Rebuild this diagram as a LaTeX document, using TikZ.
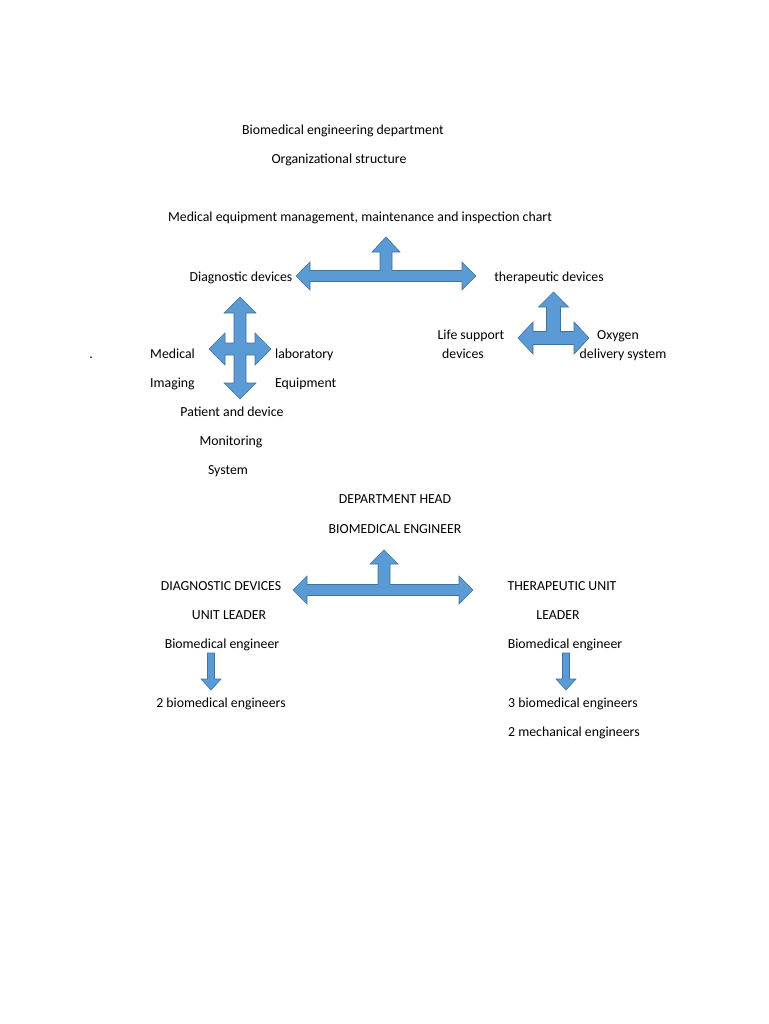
\documentclass[tikz,border=0pt]{standalone}
\usepackage{fontspec}
\setmainfont{Carlito}
\definecolor{arrowblue}{HTML}{5B9BD5}
\definecolor{arrowedge}{HTML}{41719C}
\tikzset{
  chart text/.style={font=\fontsize{13.8}{16}\selectfont, inner sep=0pt, anchor=base},
  chart left/.style={chart text, anchor=base west},
  block arrow/.style={fill=arrowblue, draw=arrowedge, line width=0.6pt, line join=miter},
}
\begin{document}
\begin{tikzpicture}[x=1pt,y=-1pt]
\useasboundingbox (0,0) rectangle (768,1024);

% centres of the block arrows
\coordinate (topT) at (386,276);
\coordinate (cross) at (240,349);
\coordinate (therT) at (553.5,338);
\coordinate (headT) at (383,590);
\coordinate (diagDown) at (211,653);
\coordinate (therDown) at (566,653);

% upper chart
\node[chart text] (title) at (343,135) {Biomedical engineering department};
\node[chart text] (org) at (339,164) {Organizational structure};
\node[chart text] (mgmt) at (360,222) {Medical equipment management, maintenance and inspection chart};
\node[chart text] (diag) at (241,281) {Diagnostic devices};
\node[chart text] (ther) at (549,281) {therapeutic devices};
\node[chart text] (life1) at (471,339) {Life support};
\node[chart text] (life2) at (463,358) {devices};
\node[chart text] (oxy1) at (618,339) {Oxygen};
\node[chart text] (oxy2) at (623,358) {delivery system};
\node[chart text] (dot) at (91,358) {.};
\node[chart left] (med1) at (150,358) {Medical};
\node[chart left] (med2) at (150,387) {Imaging};
\node[chart left] (lab1) at (275,358) {laboratory};
\node[chart left] (lab2) at (275,387) {Equipment};
\node[chart text] (pat1) at (232,416) {Patient and device};
\node[chart text] (pat2) at (231,445) {Monitoring};
\node[chart text] (pat3) at (228,474) {System};

% lower chart
\node[chart text] (head1) at (395,503) {DEPARTMENT HEAD};
\node[chart text] (head2) at (395,533) {BIOMEDICAL ENGINEER};
\node[chart text] (dunit1) at (221,590) {DIAGNOSTIC DEVICES};
\node[chart text] (dunit2) at (229,619) {UNIT LEADER};
\node[chart text] (dunit3) at (222,648) {Biomedical engineer};
\node[chart text] (dstaff) at (221,707) {2 biomedical engineers};
\node[chart text] (tunit1) at (562,590) {THERAPEUTIC UNIT};
\node[chart text] (tunit2) at (558,619) {LEADER};
\node[chart text] (tunit3) at (565,648) {Biomedical engineer};
\node[chart left] (tstaff1) at (508,707) {3 biomedical engineers};
\node[chart left] (tstaff2) at (508,736) {2 mechanical engineers};

% left-right-up arrows
\begin{scope}[shift={(topT)}]
\draw[block arrow] (-90,0) -- (-76,-14) -- (-76,-5.5) -- (-6,-5.5) -- (-6,-24) -- (-14,-24)
  -- (0,-39) -- (14,-24) -- (6,-24) -- (6,-5.5) -- (76,-5.5) -- (76,-14) -- (90,0)
  -- (76,14) -- (76,5.5) -- (-76,5.5) -- (-76,14) -- cycle;
\end{scope}
\begin{scope}[shift={(headT)}]
\draw[block arrow] (-90,0) -- (-76,-14) -- (-76,-5.5) -- (-5,-5.5) -- (-5,-26) -- (-13,-26)
  -- (1,-40) -- (15,-26) -- (7,-26) -- (7,-5.5) -- (76,-5.5) -- (76,-14) -- (90,0)
  -- (76,14) -- (76,5.5) -- (-76,5.5) -- (-76,14) -- cycle;
\end{scope}
\begin{scope}[shift={(therT)}]
\draw[block arrow] (-35.5,0) -- (-20.5,-16) -- (-20.5,-6.5) -- (-7,-6.5) -- (-7,-31) -- (-15,-31)
  -- (0,-46) -- (15,-31) -- (7,-31) -- (7,-6.5) -- (20.5,-6.5) -- (20.5,-16) -- (35.5,0)
  -- (20.5,16) -- (20.5,6.5) -- (-20.5,6.5) -- (-20.5,16) -- cycle;
\end{scope}

% four way arrow
\begin{scope}[shift={(cross)}]
\draw[block arrow] (0,-52) -- (16,-36) -- (6,-36) -- (6,-6) -- (15,-6) -- (15,-16) -- (31,0)
  -- (15,16) -- (15,6) -- (6,6) -- (6,34) -- (16,34) -- (0,50) -- (-16,34) -- (-6,34)
  -- (-6,6) -- (-15,6) -- (-15,16) -- (-31,0) -- (-15,-16) -- (-15,-6) -- (-6,-6)
  -- (-6,-36) -- (-16,-36) -- cycle;
\end{scope}

% down arrows
\foreach \c in {diagDown, therDown} {
  \begin{scope}[shift={(\c)}]
  \draw[block arrow] (-3.5,0) -- (3.5,0) -- (3.5,26) -- (10,26) -- (0,37) -- (-10,26)
    -- (-3.5,26) -- cycle;
  \end{scope}
}
\end{tikzpicture}
\end{document}
